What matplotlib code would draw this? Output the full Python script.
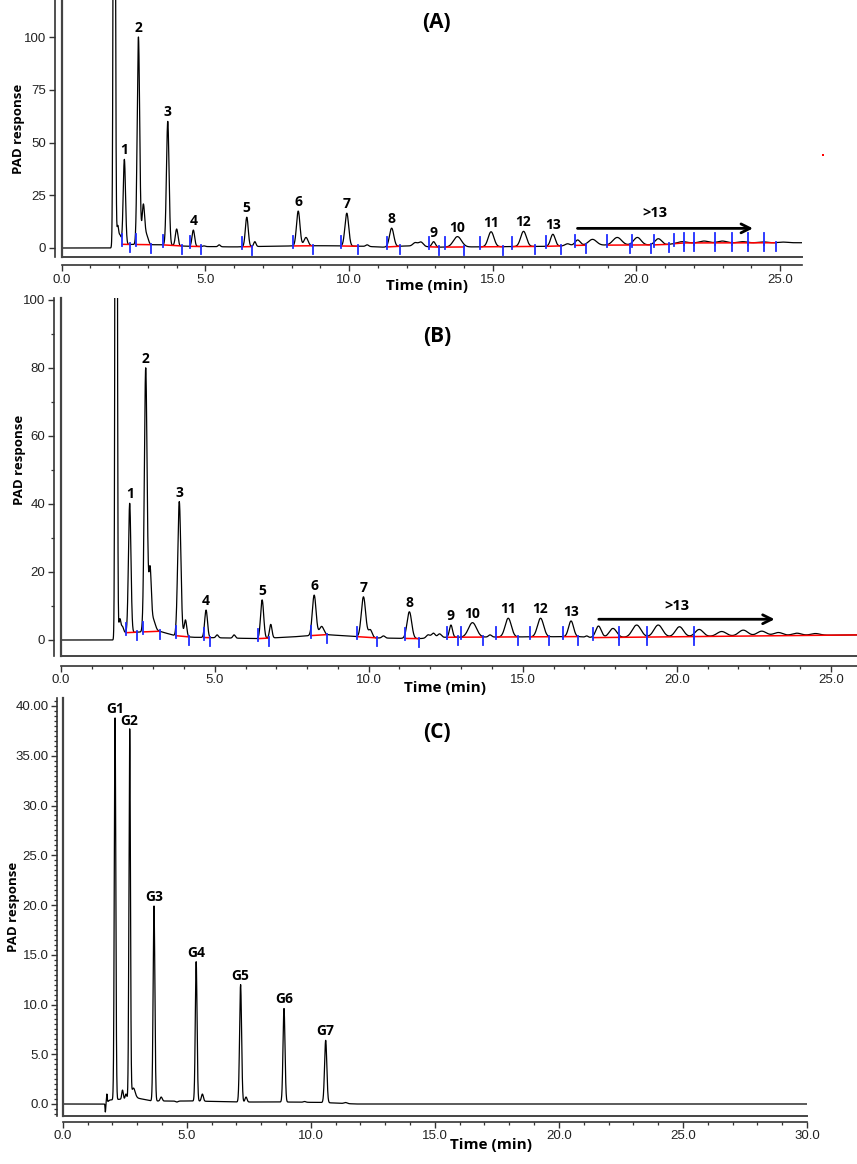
import numpy as np
import matplotlib
matplotlib.use("Agg")
import matplotlib.pyplot as plt
from matplotlib.ticker import MultipleLocator, FixedLocator, FixedFormatter
from matplotlib.lines import Line2D

W, H = 857, 1164
TICK_FONT = "Liberation Sans"
BOLD_FONT = "Open Sans"

# ------------------------------------------------------------------ data
# Panel A
A_void = (1.83, 420.0, 0.03)
A_labels = ["1", "2", "3", "4", "5", "6", "7", "8", "9", "10", "11", "12", "13"]
A_peak_t = [2.18, 2.67, 3.69, 4.58, 6.44, 8.23, 9.92, 11.48, 12.94, 13.77, 14.94, 16.07, 17.09]
A_peak_h = [42, 100, 60, 8.5, 14.6, 17.5, 16.5, 9.4, 3.0, 5.4, 7.7, 7.9, 6.5]
A_peak_w = [0.04, 0.043, 0.045, 0.045, 0.05, 0.06, 0.065, 0.075, 0.06, 0.14, 0.10, 0.10, 0.08]
A_minor_t = [1.95, 2.03, 2.84, 2.95, 4.00, 4.95, 5.48, 6.72, 8.50, 10.63, 12.30, 12.50,
             17.60, 17.95, 18.47, 19.33, 20.03, 20.76, 21.60, 22.35, 22.98, 23.70, 24.40, 25.10]
A_minor_h = [10, 6, 20, 6, 9, 1.0, 1.5, 3, 5, 1.5, 2.5, 2.8,
             2.0, 3.8, 4.1, 5.0, 5.0, 4.4, 3.0, 3.3, 3.3, 3.0, 2.9, 2.8]
A_minor_w = [0.03, 0.04, 0.045, 0.06, 0.045, 0.04, 0.04, 0.04, 0.07, 0.05, 0.08, 0.08,
             0.08, 0.09, 0.14, 0.15, 0.13, 0.12, 0.15, 0.15, 0.15, 0.15, 0.15, 0.15]
A_base_t = [0, 1.75, 1.76, 3.5, 4.4, 6.0, 7.5, 9.0, 10.5, 11.2, 12.0, 13.1, 17.0, 18.0, 21.0, 21.5, 25.8]
A_base_v = [0, 0, 1.8, 1.5, 0.8, 0.5, 0.9, 1.1, 0.8, 0.4, 1.0, 0.4, 0.8, 1.3, 1.5, 2.4, 2.5]
A_int_start = [2.11, 2.57, 3.54, 4.46, 6.29, 8.06, 9.71, 11.31, 12.78, 13.33, 14.56, 15.68, 16.84,
               17.85, 18.99, 19.86, 20.61, 21.29, 21.66, 22.00, 22.73, 23.33, 23.88, 24.44]
A_int_end = [2.37, 3.10, 4.18, 4.85, 6.63, 8.75, 10.32, 11.76, 13.13, 14.00, 15.37, 16.47, 17.39,
             18.23, 19.76, 20.49, 21.13, 21.66, 22.00, 22.73, 23.33, 23.88, 24.44, 24.84]

# Panel B
B_void = (1.80, 500.0, 0.025)
B_labels = ["1", "2", "3", "4", "5", "6", "7", "8", "9", "10", "11", "12", "13"]
B_peak_t = [2.24, 2.76, 3.85, 4.72, 6.54, 8.23, 9.83, 11.32, 12.67, 13.37, 14.53, 15.58, 16.57]
B_peak_h = [40.2, 80, 40.7, 8.8, 11.8, 13.2, 12.7, 8.3, 4.4, 5.1, 6.4, 6.4, 5.6]
B_peak_w = [0.04, 0.045, 0.05, 0.045, 0.05, 0.06, 0.07, 0.075, 0.05, 0.13, 0.10, 0.10, 0.08]
B_minor_t = [1.92, 2.00, 2.90, 3.00, 4.05, 5.08, 5.63, 6.82, 8.47, 10.05, 10.48, 11.93, 12.10, 12.30,
             13.94, 17.08, 17.46, 17.93, 18.70, 19.40, 20.09, 20.73, 21.46, 22.16, 22.76, 23.30, 23.90, 24.50]
B_minor_h = [6, 4, 20, 6, 5.9, 1.5, 1.5, 4.6, 4, 3, 1.2, 1.5, 2.0, 1.8,
             1.5, 1.2, 4.1, 3.4, 4.4, 4.4, 3.9, 3.1, 2.5, 2.9, 2.6, 2.2, 2.0, 1.9]
B_minor_w = [0.03, 0.04, 0.04, 0.07, 0.04, 0.04, 0.04, 0.04, 0.07, 0.06, 0.05, 0.06, 0.06, 0.06,
             0.05, 0.04, 0.09, 0.12, 0.14, 0.14, 0.13, 0.13, 0.15, 0.15, 0.15, 0.15, 0.15, 0.15]
B_base_t = [0, 1.75, 1.76, 3.2, 3.7, 4.3, 6.4, 7.5, 8.6, 9.6, 10.3, 11.6, 12.5, 16.8, 17.3, 20.5, 25.9]
B_base_v = [0, 0, 2.0, 2.6, 1.3, 0.8, 0.4, 0.9, 1.6, 1.0, 0.6, 0.4, 0.8, 1.0, 0.7, 1.0, 1.5]
B_int_start = [2.11, 2.67, 3.74, 4.64, 6.42, 8.12, 9.63, 11.19, 12.55, 13.00, 14.13, 15.24, 16.30,
               17.29, 18.14, 19.05, 20.56]
B_int_end = [2.47, 3.21, 4.16, 4.86, 6.75, 8.64, 10.26, 11.62, 12.89, 13.72, 14.84, 15.86, 16.78,
             18.14, 19.05, 20.56, 25.85]

# Panel C
C_labels = ["G1", "G2", "G3", "G4", "G5", "G6", "G7"]
C_peak_t = [2.11, 2.70, 3.68, 5.38, 7.17, 8.92, 10.60]
C_peak_h = [38.8, 37.6, 19.9, 14.3, 12.0, 9.6, 6.4]
C_peak_w = [0.03, 0.03, 0.035, 0.035, 0.04, 0.04, 0.045]
C_minor_t = [1.72, 1.78, 2.41, 2.55, 2.85, 3.97, 4.60, 5.63, 7.39, 9.75, 11.40]
C_minor_h = [-0.8, 1.0, 1.4, 1.0, 1.6, 0.7, 0.2, 1.0, 0.7, 0.25, 0.15]
C_minor_w = [0.012, 0.015, 0.03, 0.03, 0.07, 0.04, 0.05, 0.04, 0.04, 0.05, 0.06]
C_base_t = [0, 1.7, 1.9, 3.0, 3.6, 5.3, 7.1, 9.0, 10.5, 11.8, 30]
C_base_v = [0, 0, 0.4, 0.6, 0.3, 0.3, 0.2, 0.2, 0.15, 0.0, 0.0]

# ------------------------------------------------------------------ helpers
fig = plt.figure(figsize=(W / 100, H / 100), dpi=100)


def px_axes(left, right, top, bottom):
    return fig.add_axes([left / W, 1 - bottom / H, (right - left) / W, (bottom - top) / H])


def build_trace(t, base_t, base_v, groups):
    base = np.interp(t, base_t, base_v)
    y = base.copy()
    for tc_list, h_list, w_list in groups:
        for tc, h, w in zip(tc_list, h_list, w_list):
            amp = h - np.interp(tc, base_t, base_v)
            y += amp * np.exp(-0.5 * ((t - tc) / w) ** 2)
    return y


def style_axes(ax, xmax, ylo, yhi, out_left, out_bottom):
    ax.set_xlim(0, xmax)
    ax.set_ylim(ylo, yhi)
    for s in ["top", "right"]:
        ax.spines[s].set_visible(False)
    ax.spines["left"].set_position(("outward", out_left))
    ax.spines["bottom"].set_position(("outward", out_bottom))
    for s in ["left", "bottom"]:
        ax.spines[s].set_linewidth(1.2)
        ax.spines[s].set_color("#333333")
    ax.patch.set_alpha(0)
    ax.plot([0, 0], [0, 1], transform=ax.transAxes, color="#444444", lw=1.6, clip_on=False, zorder=5)
    ax.plot([0, 1], [0, 0], transform=ax.transAxes, color="#444444", lw=1.4, clip_on=False, zorder=5)
    ax.tick_params(which="major", direction="out", length=4.2, width=1.0, color="#333333",
                   labelsize=9.5, pad=2)
    ax.tick_params(which="minor", direction="out", length=2.2, width=0.9, color="#333333")
    for lab in ax.get_xticklabels() + ax.get_yticklabels():
        lab.set_fontfamily(TICK_FONT)
        lab.set_color("#222222")


def integration(ax, base_t, base_v, starts, ends, ppu, xmax):
    for s, e in zip(starts, ends):
        ys = np.interp(s, base_t, base_v)
        ye = np.interp(e, base_t, base_v)
        ax.plot([s, e], [ys, ye], color="red", lw=1.1, zorder=3)
        ax.plot([s, s], [ys - 2 / ppu, ys + 10 / ppu], color="#1f2cff", lw=1.3, zorder=4)
        if e < xmax - 0.5:
            ax.plot([e, e], [ye - 8 / ppu, ye + 1 / ppu], color="#1f2cff", lw=1.3, zorder=4)


def peak_labels(ax, labels, pt, ph, fs=10):
    for lab, x, yv in zip(labels, pt, ph):
        ax.annotate(lab, (x, yv), xytext=(0, 1.5), textcoords="offset points", ha="center",
                    va="bottom", fontsize=fs, fontweight="bold", family=BOLD_FONT, zorder=6)


def ftext(x, y, s, **kw):
    fig.text(x / W, 1 - y / H, s, ha="center", va="center", **kw)


# ------------------------------------------------------------------ Panel A
axA = px_axes(61.7, 802, 0, 257)
A_xmax = (802 - 61.7) / 28.74
tA = np.linspace(0, A_xmax, 8000)
yA = build_trace(tA, A_base_t, A_base_v,
                 [([A_void[0]], [A_void[1]], [A_void[2]]),
                  (A_peak_t, A_peak_h, A_peak_w),
                  (A_minor_t, A_minor_h, A_minor_w)])
axA.plot(tA, yA, color="black", lw=0.9, zorder=2)
integration(axA, A_base_t, A_base_v, A_int_start, A_int_end, 2.11, A_xmax)
axA.xaxis.set_major_locator(MultipleLocator(5))
axA.xaxis.set_minor_locator(MultipleLocator(1))
axA.xaxis.set_major_formatter(matplotlib.ticker.FormatStrFormatter("%.1f"))
axA.yaxis.set_major_locator(FixedLocator([0, 25, 50, 75, 100]))
style_axes(axA, A_xmax, -(257 - 248) / 2.11, 248 / 2.11, 5, 6)
peak_labels(axA, A_labels, A_peak_t, A_peak_h)
axA.annotate("", xy=(24.15, 9.3), xytext=(17.85, 9.3),
             arrowprops=dict(arrowstyle="->", lw=2.0, color="black", mutation_scale=16))
axA.text(20.63, 16.6, ">13", ha="center", va="center", fontsize=10.5, fontweight="bold", family=BOLD_FONT)

# ------------------------------------------------------------------ Panel B
axB = px_axes(60.7, 857, 298, 656)
B_xmax = (857 - 60.7) / 30.8
tB = np.linspace(0, B_xmax, 8000)
yB = build_trace(tB, B_base_t, B_base_v,
                 [([B_void[0]], [B_void[1]], [B_void[2]]),
                  (B_peak_t, B_peak_h, B_peak_w),
                  (B_minor_t, B_minor_h, B_minor_w)])
axB.plot(tB, yB, color="black", lw=0.9, zorder=2)
integration(axB, B_base_t, B_base_v, B_int_start, B_int_end, 3.4, B_xmax)
axB.xaxis.set_major_locator(MultipleLocator(5))
axB.xaxis.set_minor_locator(MultipleLocator(1))
axB.xaxis.set_major_formatter(matplotlib.ticker.FormatStrFormatter("%.1f"))
axB.yaxis.set_major_locator(MultipleLocator(20))
axB.yaxis.set_minor_locator(MultipleLocator(10))
style_axes(axB, B_xmax, -(656 - 640) / 3.4, (640 - 298) / 3.4, 5, 7)
peak_labels(axB, B_labels, B_peak_t, B_peak_h)
axB.annotate("", xy=(23.27, 6.1), xytext=(17.38, 6.1),
             arrowprops=dict(arrowstyle="->", lw=2.0, color="black", mutation_scale=16))
axB.text(20.0, 10.0, ">13", ha="center", va="center", fontsize=10.5, fontweight="bold", family=BOLD_FONT)

# ------------------------------------------------------------------ Panel C
axC = px_axes(62.7, 807, 698, 1116)
tC = np.linspace(0, 30, 9000)
yC = build_trace(tC, C_base_t, C_base_v,
                 [(C_peak_t, C_peak_h, C_peak_w),
                  (C_minor_t, C_minor_h, C_minor_w)])
axC.plot(tC, yC, color="black", lw=0.9, zorder=2)
axC.xaxis.set_major_locator(MultipleLocator(5))
axC.xaxis.set_minor_locator(MultipleLocator(1))
axC.xaxis.set_major_formatter(matplotlib.ticker.FormatStrFormatter("%.1f"))
C_yticks = [0, 5, 10, 15, 20, 25, 30, 35, 40]
C_yticklabels = ["0.0", "5.0", "10.0", "15.0", "20.0", "25.0", "30.0", "35.00", "40.00"]
axC.yaxis.set_major_locator(FixedLocator(C_yticks))
axC.yaxis.set_major_formatter(FixedFormatter(C_yticklabels))
axC.yaxis.set_minor_locator(MultipleLocator(0.5))
style_axes(axC, 30, -(1116 - 1104) / 9.95, (1104 - 698) / 9.95, 4, 4)
peak_labels(axC, C_labels, C_peak_t, C_peak_h)

# ------------------------------------------------------------------ texts
for (x, y, s) in [(436.5, 23, "(A)"), (437, 336, "(B)"), (437, 732, "(C)")]:
    ftext(x, y, s, fontsize=15, fontweight="bold", family=BOLD_FONT)
for (x, y) in [(427, 286), (445, 688), (491, 1145)]:
    ftext(x, y, "Time (min)", fontsize=11, fontweight="bold", family=BOLD_FONT)
for (x, y) in [(19, 129), (19.3, 460), (13.3, 907)]:
    ftext(x, y, "PAD response", fontsize=9.5, fontweight="bold", family=BOLD_FONT, rotation=90)

fig.add_artist(Line2D([822.7 / W], [1 - 155.3 / H], marker="s", markersize=2.0, color="red",
                      markeredgewidth=0, transform=fig.transFigure))

fig.savefig("out.png", dpi=100)
